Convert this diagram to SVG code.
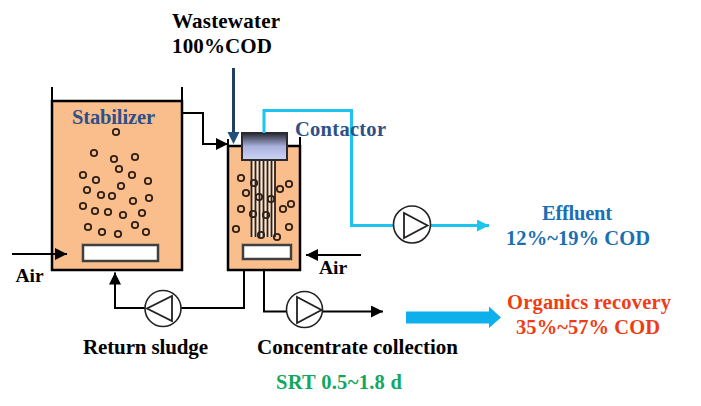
<svg xmlns="http://www.w3.org/2000/svg" width="701" height="406" viewBox="0 0 701 406">
<defs>
<linearGradient id="hg" x1="0" y1="0" x2="0" y2="1"><stop offset="0" stop-color="#26262f"/><stop offset="0.5" stop-color="#aab2de"/><stop offset="1" stop-color="#ccd4f4"/></linearGradient>
<marker id="ab" markerUnits="userSpaceOnUse" markerWidth="13" markerHeight="13" refX="12" refY="6" orient="auto"><path d="M0 0L12 6L0 12Z" fill="#000"/></marker>
<marker id="ac" markerUnits="userSpaceOnUse" markerWidth="13" markerHeight="13" refX="12" refY="6" orient="auto"><path d="M0 0L12 6L0 12Z" fill="#1dc4f0"/></marker>
</defs>
<style>
text{font-family:"Liberation Serif","Times New Roman",serif;font-weight:bold}
.k{font-size:21px;fill:#000}
.a{font-size:19.500px;fill:#000}
.n{font-size:20.500px;fill:#2f5088}
.tank{fill:#f9be8b;stroke:#000;stroke-width:2.500}
.wall{fill:none;stroke:#000;stroke-width:2}
.diff{fill:#fff;stroke:#404040;stroke-width:2.500}
.b{fill:none;stroke:#2e2018;stroke-width:1.800}
.l{fill:none;stroke:#000;stroke-width:2}
.c{fill:none;stroke:#1dc4f0;stroke-width:3}
.p{fill:#fff;stroke:#222;stroke-width:1.600}
.f{fill:none;stroke:#222;stroke-width:1.800}
.m{stroke:#2e2018;stroke-width:1.800;fill:none}
</style>
<rect width="701" height="406" fill="#fff"/>
<g id="stabilizer">
<path class="wall" d="M52 87V101M182 87V101"/>
<rect class="tank" x="52" y="101" width="130" height="169"/>
<rect class="diff" x="83" y="245" width="75" height="16"/>
<g class="b">
<circle cx="116" cy="132" r="3.200"/><circle cx="94" cy="153" r="3.200"/><circle cx="114" cy="159" r="3.200"/><circle cx="135" cy="157" r="3.200"/><circle cx="119" cy="169" r="3.200"/><circle cx="83" cy="175" r="3.200"/><circle cx="132" cy="175" r="3.200"/><circle cx="96" cy="180" r="3.200"/><circle cx="148" cy="181" r="3.200"/><circle cx="121" cy="186" r="3.200"/><circle cx="87" cy="190" r="3.200"/><circle cx="101" cy="195" r="3.200"/><circle cx="112" cy="196" r="3.200"/><circle cx="133" cy="201" r="3.200"/><circle cx="149" cy="198" r="3.200"/><circle cx="83" cy="206" r="3.200"/><circle cx="95" cy="211" r="3.200"/><circle cx="108" cy="212" r="3.200"/><circle cx="123" cy="215" r="3.200"/><circle cx="142" cy="213" r="3.200"/><circle cx="88" cy="227" r="3.200"/><circle cx="102" cy="232" r="3.200"/><circle cx="118" cy="234" r="3.200"/><circle cx="135" cy="225" r="3.200"/><circle cx="146" cy="232" r="3.200"/>
</g>
<text class="n" x="72" y="124" textLength="83">Stabilizer</text>
</g>
<g id="contactor">
<path class="wall" d="M228 139V146M300 137V146"/>
<rect class="tank" x="228" y="146" width="72" height="124"/>
<rect class="diff" x="243" y="245" width="48" height="14"/>
<rect x="251" y="160" width="24" height="77" fill="#fde6d0"/>
<path class="m" d="M251.500 160V237M255.500 160V237M259.500 160V237M263.500 160V237M267.500 160V237M271.500 160V237M275 160V237"/>
<rect x="242" y="133" width="45" height="27" fill="url(#hg)" stroke="#2a2a30" stroke-width="2"/>
<g class="b">
<circle cx="241" cy="178" r="3.200"/><circle cx="254" cy="183" r="3.200"/><circle cx="246" cy="193" r="3.200"/><circle cx="259" cy="197" r="3.200"/><circle cx="271" cy="199" r="3.200"/><circle cx="280" cy="189" r="3.200"/><circle cx="289" cy="184" r="3.200"/><circle cx="241" cy="209" r="3.200"/><circle cx="253" cy="214" r="3.200"/><circle cx="266" cy="215" r="3.200"/><circle cx="283" cy="209" r="3.200"/><circle cx="291" cy="204" r="3.200"/><circle cx="236" cy="229" r="3.200"/><circle cx="289" cy="227" r="3.200"/><circle cx="261" cy="235" r="3.200"/><circle cx="277" cy="237" r="3.200"/>
</g>
</g>
<g id="connectors">
<path class="l" d="M181 113H203V144H228" marker-end="url(#ab)"/>
<path d="M233.500 68V135" fill="none" stroke="#1f4060" stroke-width="3"/>
<path d="M227.500 132H239.500L233.500 144Z" fill="#1f4f7c"/>
<path class="c" d="M264 133V110.500H351.500V225.500H489" marker-end="url(#ac)"/>
<path class="l" d="M12 254H67" marker-end="url(#ab)"/>
<path class="l" d="M361 255H306" marker-end="url(#ab)"/>
<path class="l" d="M244 271V308H115V272.500" marker-end="url(#ab)"/>
<path class="l" d="M264 271V311.500H383" marker-end="url(#ab)"/>
<path d="M406 311.500H489V306.500L501 317.500L489 328V323.500H406Z" fill="#0eb0ec"/>
</g>
<g id="pump-return"><circle class="p" cx="163" cy="308.500" r="18"/><path class="f" d="M172 296V321L147 308.500Z"/></g>
<g id="pump-concentrate"><circle class="p" cx="304.500" cy="309.500" r="18"/><path class="f" d="M297 297V323L321.500 310Z"/></g>
<g id="pump-effluent"><circle class="p" cx="412" cy="224.500" r="18.500"/><path class="f" d="M404 213V238L427.500 225.500Z"/></g>
<g id="labels">
<text class="n" x="295" y="135.500" textLength="91">Contactor</text>
<text class="k" x="172" y="28" textLength="108">Wastewater</text>
<text class="k" x="172" y="53" textLength="100">100%COD</text>
<text class="a" x="15.500" y="282">Air</text>
<text class="a" x="319" y="274">Air</text>
<text class="k" x="83" y="354" textLength="125">Return sludge</text>
<text class="k" x="257" y="354" textLength="201">Concentrate collection</text>
<text x="276" y="389" font-size="20.500" fill="#10a860" textLength="126">SRT 0.5~1.8 d</text>
<text x="542" y="220" font-size="20.500" fill="#1a70b4" textLength="70">Effluent</text>
<text x="506" y="245" font-size="20.500" fill="#1a70b4" textLength="144">12%~19% COD</text>
<text x="507" y="309" font-size="20.500" fill="#f03c14" textLength="164">Organics recovery</text>
<text x="516" y="334" font-size="20.500" fill="#f03c14" textLength="144">35%~57% COD</text>
</g>
</svg>
